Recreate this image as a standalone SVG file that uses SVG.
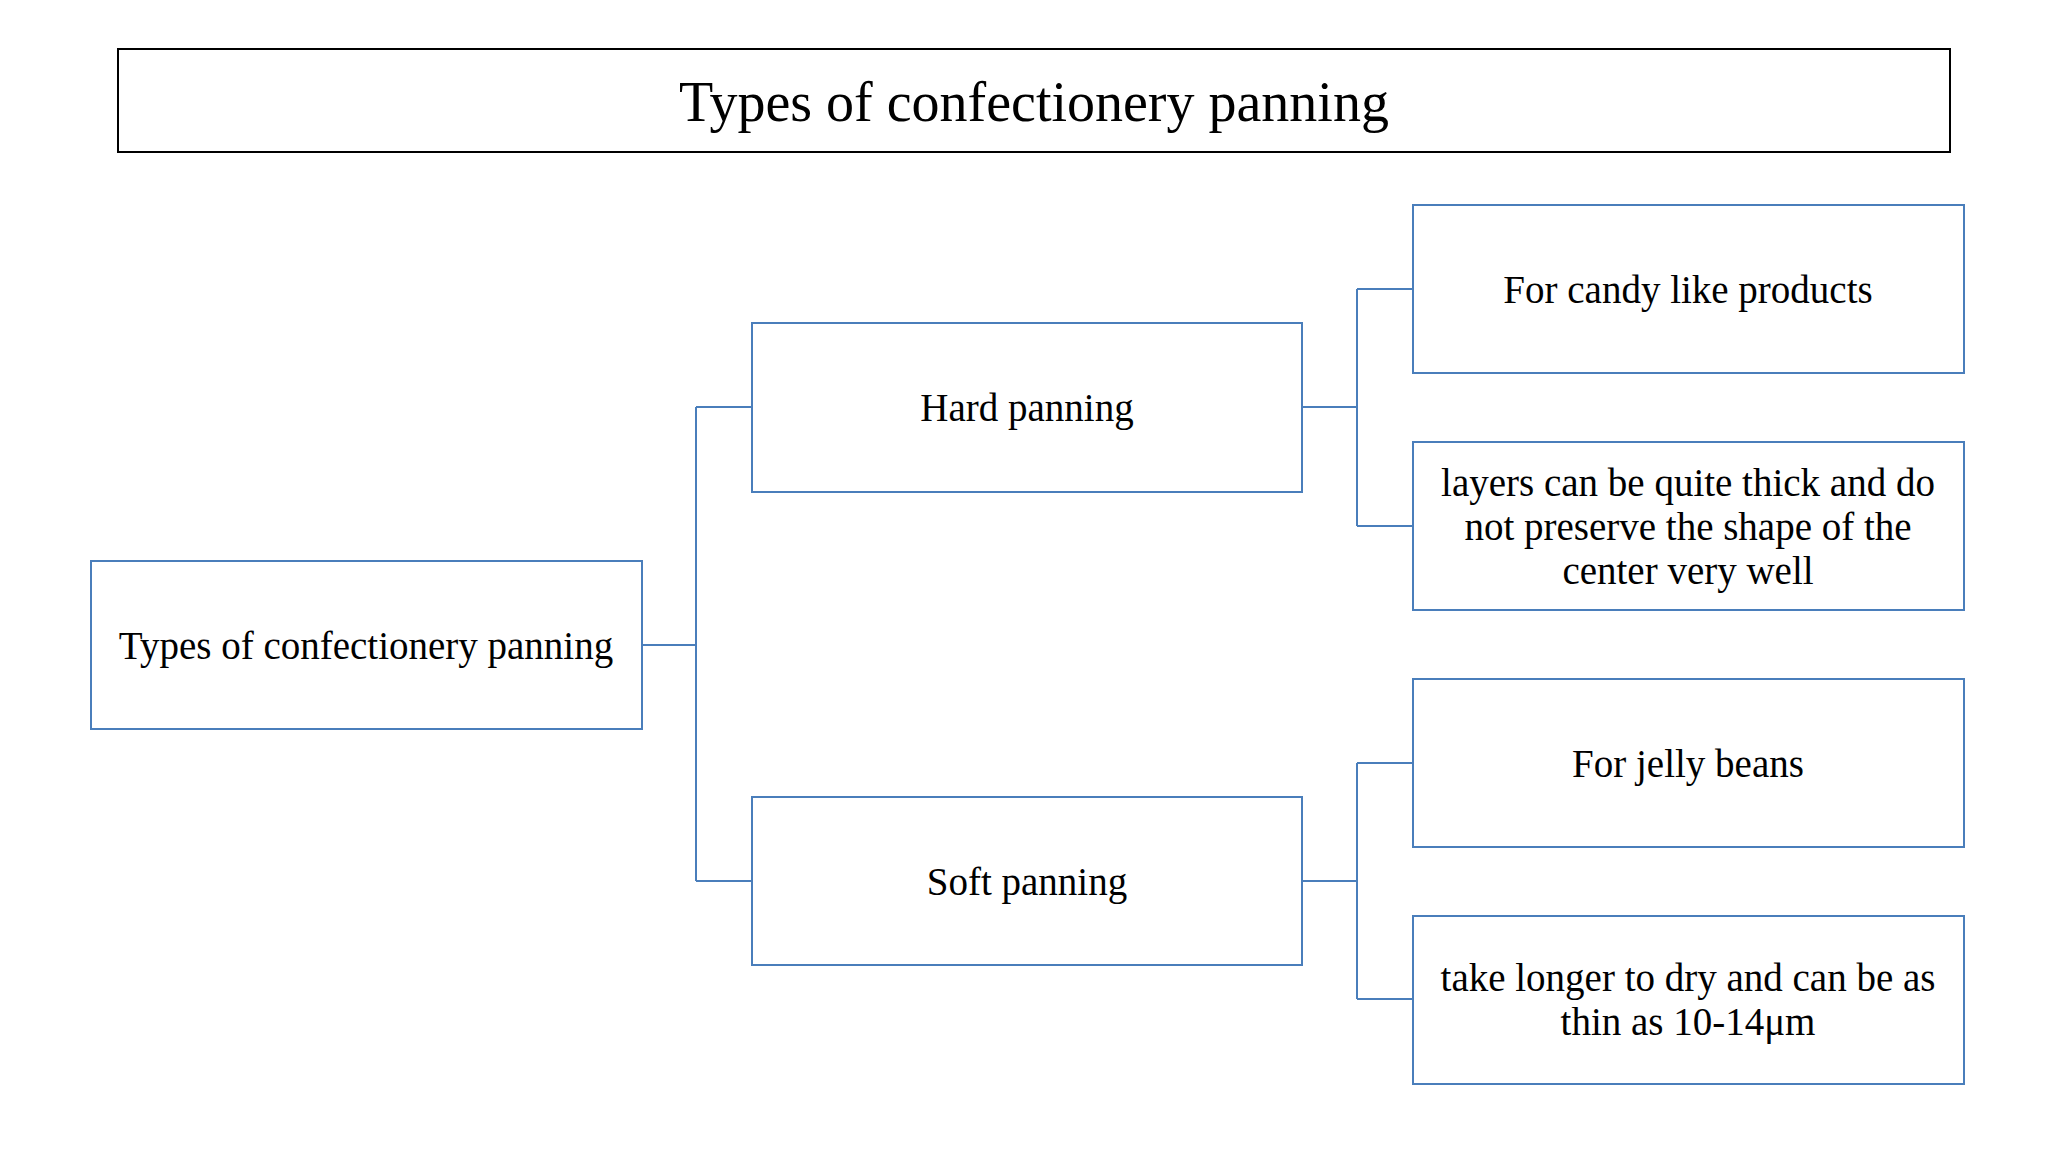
<svg xmlns="http://www.w3.org/2000/svg" width="2048" height="1152" viewBox="0 0 2048 1152">
<style>
.b{fill:#fff;stroke:#4a7ebb;stroke-width:2}
.t{font-family:"Liberation Serif",serif;font-size:39px;fill:#000;text-anchor:middle;dominant-baseline:central}
.c{fill:none;stroke:#4a7ebb;stroke-width:2}
</style>
<rect width="2048" height="1152" fill="#fff"/>
<g id="title"><rect x="118" y="49" width="1832" height="103" fill="#fff" stroke="#000" stroke-width="2"/><text class="t" x="1034" y="102" style="font-size:56px">Types of confectionery panning</text></g>
<g id="connectors">
<path class="c" d="M642 645H696M696 407V881M696 407H752M696 881H752"/>
<path class="c" d="M1302 407H1357M1357 289V526M1357 289H1413M1357 526H1413"/>
<path class="c" d="M1302 881H1357M1357 763V999M1357 763H1413M1357 999H1413"/>
</g>
<g id="root"><rect class="b" x="91" y="561" width="551" height="168"/><text class="t" x="366" y="645">Types of confectionery panning</text></g>
<g id="hard"><rect class="b" x="752" y="323" width="550" height="169"/><text class="t" x="1027" y="407">Hard panning</text></g>
<g id="soft"><rect class="b" x="752" y="797" width="550" height="168"/><text class="t" x="1027" y="881">Soft panning</text></g>
<g id="h1"><rect class="b" x="1413" y="205" width="551" height="168"/><text class="t" x="1688" y="289">For candy like products</text></g>
<g id="h2"><rect class="b" x="1413" y="442" width="551" height="168"/><text class="t" x="1688" y="526"><tspan x="1688" y="482">layers can be quite thick and do</tspan><tspan x="1688" y="526">not preserve the shape of the</tspan><tspan x="1688" y="570">center very well</tspan></text></g>
<g id="s1"><rect class="b" x="1413" y="679" width="551" height="168"/><text class="t" x="1688" y="763">For jelly beans</text></g>
<g id="s2"><rect class="b" x="1413" y="916" width="551" height="168"/><text class="t"><tspan x="1688" y="977">take longer to dry and can be as</tspan><tspan x="1688" y="1021">thin as 10-14μm</tspan></text></g>
</svg>
